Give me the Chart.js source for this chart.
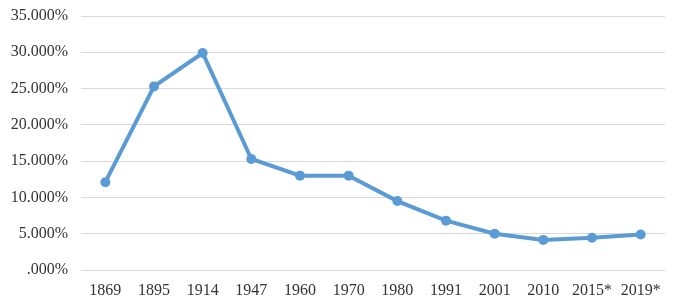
<!DOCTYPE html>
<html>
<head>
<meta charset="utf-8">
<script src="https://cdn.jsdelivr.net/npm/chart.js@4"></script>
<style>
    html, body { margin: 0; padding: 0; background: #fff; }
    #wrap { width: 677px; height: 304px; }
</style>
</head>
<body>
<div id="wrap"><canvas id="chart"></canvas></div>
<script>
const years = ['1869', '1895', '1914', '1947', '1960', '1970', '1980', '1991', '2001', '2010', '2015*', '2019*'];
const shares = [12.1, 25.3, 29.9, 15.3, 13.0, 13.0, 9.5, 6.8, 5.0, 4.15, 4.45, 4.9];
const yTicks = [0, 5, 10, 15, 20, 25, 30, 35];

const blue = '#5b9bd5';
const labelFont = { family: '"Liberation Serif", "Times New Roman", serif', size: 16 };

new Chart(document.getElementById('chart'), {
    type: 'line',
    data: {
        labels: years,
        datasets: [{
            data: shares,
            borderColor: blue,
            backgroundColor: blue,
            borderWidth: 4,
            pointRadius: 5,
            pointBorderWidth: 0,
            pointBackgroundColor: blue,
            tension: 0
        }]
    },
    options: {
        responsive: true,
        maintainAspectRatio: false,
        animation: false,
        layout: { padding: { top: 16, right: 12, left: 0, bottom: 0 } },
        plugins: {
            legend: { display: false },
            tooltip: { enabled: false }
        },
        scales: {
            x: {
                offset: true,
                grid: { display: false, drawTicks: false },
                border: { display: false },
                ticks: { color: '#333333', font: labelFont, padding: 11, maxRotation: 0, autoSkip: false },
                afterFit: (axis) => { axis.height = 34; }
            },
            y: {
                min: 0,
                max: 35,
                afterBuildTicks: (axis) => { axis.ticks = yTicks.map(v => ({ value: v })); },
                grid: { color: '#d9d9d9', lineWidth: 1, drawTicks: false },
                border: { display: false },
                ticks: {
                    color: '#333333',
                    font: labelFont,
                    padding: 13,
                    callback: (v) => v.toFixed(3).replace(/^0/, '') + '%'
                },
                afterFit: (axis) => {
                    axis.width = 81;
                    axis.paddingTop = 0;
                    axis.paddingBottom = 0;
                }
            }
        }
    }
});
</script>
</body>
</html>
